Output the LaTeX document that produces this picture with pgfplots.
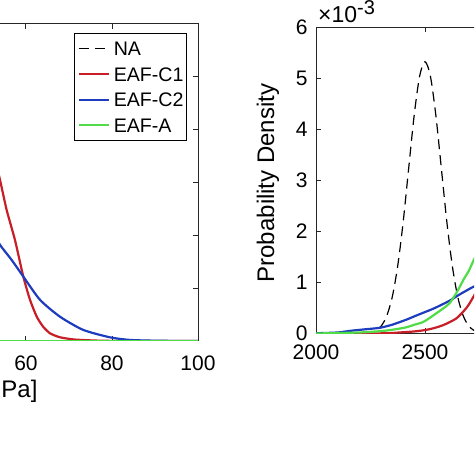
\documentclass[border=0pt]{standalone}
\usepackage{fontspec}
\setmainfont{Liberation Sans}
\usepackage{pgfplots}
\pgfplotsset{compat=1.18}
\definecolor{cRed}{RGB}{200,30,40}
\definecolor{cBlue}{RGB}{30,60,190}
\definecolor{cGreen}{RGB}{80,220,70}
\pgfplotsset{
  common/.style={
    scale only axis, anchor=south west,
    axis line style={black!85, line width=0.5pt},
    tick style={black!85, line width=0.5pt},
    tick align=inside, major tick length=2.5pt,
    /pgf/number format/assume math mode=true,
    /pgf/number format/1000 sep={},
    ticklabel style={font=\fontsize{10.5}{12}\selectfont, inner sep=0pt},
    scaled ticks=false,
    clip=true,
  },
}
\begin{document}
\begin{tikzpicture}
\useasboundingbox (0pt,0pt) rectangle (237pt,237pt);
\clip (0pt,0pt) rectangle (237pt,237pt);
% ---------- left panel ----------
\begin{axis}[common,
  at={(-30pt,66.5pt)}, width=129pt, height=158.5pt,
  xmin=40, xmax=100, ymin=0, ymax=6,
  xtick={40,60,80,100}, xticklabels={,60,80,100},
  ytick={0,1,2,3,4,5,6}, yticklabels={},
  xticklabel style={anchor=north, yshift=-7pt},
  legend image code/.code={\draw[#1] (0pt,0pt) -- (15pt,0pt);},
  legend style={at={(rel axis cs:1,1)}, anchor=north east, xshift=-5.5pt, yshift=-4.5pt,
    draw=black, line width=0.5pt, fill=white, inner xsep=1.5pt, inner ysep=4pt,
    row sep=5.55pt, column sep=2pt, font=\fontsize{9.8}{12}\selectfont,
    nodes={inner sep=0pt, text height=7.2pt, text depth=0pt}},
  legend cell align=left,
]
\addlegendimage{black, line width=0.6pt, dash pattern=on 5pt off 3pt}
\addlegendentry{NA}
\addplot[cRed, line width=1.1pt, smooth, tension=0.4] coordinates {
 (44,4.9) (47,4.7) (50,4.3) (52,3.7) (53.95,3.05) (55.5,2.48) (57.44,1.91)
 (59.37,1.22) (60.93,0.78) (62.5,0.46) (64.0,0.27) (65.58,0.146) (67.9,0.07)
 (71.0,0.03) (74.1,0.015) (78,0.004) (85,0.0) (100,0.0)};
\addlegendentry{EAF-C1}
\addplot[cBlue, line width=1.1pt, smooth, tension=0.4] coordinates {
 (44,2.9) (47,2.65) (50,2.35) (52,2.1) (53.95,1.82) (56.7,1.53) (59.37,1.22)
 (63.25,0.78) (67.9,0.46) (73.3,0.21) (79.5,0.07) (84.2,0.02) (91.2,0.004) (100,0.0005)};
\addlegendentry{EAF-C2}
\addplot[cGreen, line width=1.1pt] coordinates {(40,0) (100,0)};
\addlegendentry{EAF-A}
\end{axis}
% ---------- right panel ----------
\begin{axis}[common,
  at={(158pt,70.25pt)}, width=109pt, height=153.25pt,
  xmin=2000, xmax=3000, ymin=0, ymax=0.006,
  xtick={2000,2500,3000}, xticklabels={2000,2500,},
  ytick={0,0.001,0.002,0.003,0.004,0.005,0.006},
  yticklabels={0,1,2,3,4,5,6},
  xticklabel style={anchor=north, yshift=-5.65pt},
  yticklabel style={anchor=east, xshift=-4pt},
]
\addplot[black, line width=0.6pt, dash pattern=on 5pt off 3pt, smooth] coordinates {
 (2000,0) (2150,0.0000002) (2200,0.0000018) (2225,0.0000064) (2250,0.000021)
 (2275,0.000059) (2300,0.000152) (2325,0.00035) (2350,0.00072) (2375,0.00133)
 (2400,0.00219) (2425,0.00323) (2450,0.00426) (2475,0.00503) (2500,0.00532)
 (2525,0.00503) (2550,0.00426) (2575,0.00323) (2600,0.00219) (2625,0.00133)
 (2650,0.00072) (2675,0.00035) (2700,0.000152) (2725,0.000059) (2750,0.000021)
 (2775,0.0000064) (2800,0.0000018) (2850,0.0000002) (3000,0)};
\addplot[cRed, line width=1.1pt, smooth] coordinates {
 (2000,0) (2300,0.000003) (2382,0.00002) (2450,0.00004) (2505,0.00007)
 (2545,0.00011) (2581,0.00016) (2612,0.00022) (2642,0.00029) (2660,0.00036)
 (2680,0.00045) (2700,0.00056) (2725,0.00074) (2750,0.00092) (2800,0.0012)};
\addplot[cBlue, line width=1.1pt, smooth] coordinates {
 (2000,0.000005) (2100,0.00002) (2153,0.00005) (2220,0.00008) (2290,0.00011)
 (2340,0.00016) (2382,0.00022) (2420,0.00028) (2459,0.00035) (2500,0.00042)
 (2535,0.00048) (2575,0.00056) (2612,0.00064) (2657,0.00076) (2690,0.00084)
 (2725,0.00092) (2760,0.00097) (2800,0.001)};
\addplot[cGreen, line width=1.1pt, smooth] coordinates {
 (2000,0) (2200,0.00002) (2306,0.00005) (2360,0.00008) (2413,0.00012)
 (2450,0.00017) (2489,0.00022) (2520,0.0003) (2550,0.00039) (2580,0.00048)
 (2612,0.00059) (2642,0.00078) (2660,0.00092) (2680,0.00108) (2700,0.00122)
 (2725,0.00145) (2750,0.00165) (2800,0.002)};
\end{axis}
% labels
\node[rotate=90, inner sep=0pt, font=\fontsize{12}{14}\selectfont] at (134pt,145.5pt) {Probability Density};
\node[anchor=west, inner sep=0pt, font=\fontsize{12}{14}\selectfont] at (0.5pt,41.5pt) {Pa]};
\node[anchor=base west, inner sep=0pt, font=\fontsize{11.5}{13}\selectfont] at (158.9pt,225.5pt) {×10\raisebox{4.2pt}{\fontsize{10}{11}\selectfont -3}};
\end{tikzpicture}
\end{document}
